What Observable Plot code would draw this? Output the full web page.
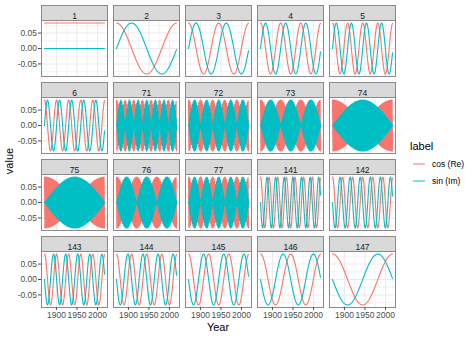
<!DOCTYPE html>
<html>
<head>
<meta charset="utf-8">
<script src="https://cdn.jsdelivr.net/npm/d3@7"></script>
<script src="https://cdn.jsdelivr.net/npm/@observablehq/plot@0.6"></script>
<style>
  body { margin: 0; background: #fff; }
  #chart { position: relative; width: 474px; height: 338px; font-family: "Liberation Sans", Arial, sans-serif; }
</style>
</head>
<body>
<div id="chart"></div>
<script>
// Facet labels (DFT frequency index, 1-based), in reading order
const panels = [1, 2, 3, 4, 5, 6, 71, 72, 73, 74, 75, 76, 77, 141, 142, 143, 144, 145, 146, 147];
// Years on the x axis
const firstYear = 1871;
const lastYear = 2017;
const years = d3.range(firstYear, lastYear + 1);
const nYears = years.length; // 147
// Series (legend labels) and colours
const series = ["cos (Re)", "sin (Im)"];
const seriesColors = ["#F8766D", "#00BFC4"];
// Tick labels
const xTicks = [1900, 1950, 2000];
const xMinor = [1875, 1925, 1975];
const yTicks = [-0.05, 0, 0.05];
const yMinor = [-0.075, -0.025, 0.025, 0.075];
const nCols = 5;

// Table: DFT basis vectors (real and imaginary parts), normalised by sqrt(N)
const rows = [];
panels.forEach((k, i) => {
  const col = i % nCols, row = Math.floor(i / nCols);
  series.forEach((s, si) => {
    years.forEach((yr, n) => {
      const a = 2 * Math.PI * (k - 1) * n / nYears;
      const v = (si === 0 ? Math.cos(a) : Math.sin(a)) / Math.sqrt(nYears);
      rows.push({panel: k, col, row, Year: yr, value: v, label: s});
    });
  });
});
const strips = panels.map((k, i) => ({panel: k, col: i % nCols, row: Math.floor(i / nCols)}));

const xr = lastYear - firstYear;
const xDomain = [firstYear - 0.05 * xr, lastYear + 0.05 * xr];
const vmax = d3.max(rows, d => d.value), vmin = d3.min(rows, d => d.value);
const yr_ = vmax - vmin;
const yDomain = [vmin - 0.05 * yr_, vmax + 0.05 * yr_];

const W = 474, H = 338, mL = 41, mR = 79, mT = 20, mB = 31;
const nRows = Math.ceil(panels.length / nCols);
const fyPad = 21 / 77, fxPad = 6 / 72;
const fyStep = (H - mT - mB) / (nRows - fyPad);
const panelH = fyStep * (1 - fyPad);
const stripH = 15;
const borderCol = "#8a8a8a";

const plot = Plot.plot({
  width: W, height: H,
  marginLeft: mL, marginRight: mR, marginTop: mT, marginBottom: mB,
  style: {fontFamily: '"Liberation Sans", Arial, sans-serif', background: "transparent"},
  fx: {domain: d3.range(nCols), paddingInner: fxPad, paddingOuter: 0, round: false, axis: null, label: null},
  fy: {domain: d3.range(nRows), paddingInner: fyPad, paddingOuter: 0, round: false, axis: null, label: null},
  x: {domain: xDomain, label: null},
  y: {domain: yDomain, label: null},
  color: {domain: series, range: seriesColors},
  marks: [
    Plot.gridX(xMinor, {stroke: "#ededed", strokeOpacity: 1, strokeWidth: 0.6}),
    Plot.gridY(yMinor, {stroke: "#ededed", strokeOpacity: 1, strokeWidth: 0.6}),
    Plot.gridX(xTicks, {stroke: "#ebebeb", strokeOpacity: 1, strokeWidth: 1.1}),
    Plot.gridY(yTicks, {stroke: "#ebebeb", strokeOpacity: 1, strokeWidth: 1.1}),
    Plot.line(rows, {x: "Year", y: "value", z: "label", stroke: "label", fx: "col", fy: "row", strokeWidth: 1.1, curve: "linear"}),
    Plot.frame({stroke: borderCol, strokeWidth: 1}),
    Plot.frame({fill: "#d9d9d9", stroke: borderCol, strokeWidth: 1, insetTop: -stripH, insetBottom: panelH}),
    Plot.text(strips, {fx: "col", fy: "row", text: "panel", frameAnchor: "top", dy: -stripH / 2, fontSize: 8.5, fill: "#1a1a1a"}),
    Plot.axisX({ticks: xTicks, tickFormat: d => String(d), tickSize: 3, tickPadding: 1.5, fontSize: 8.5, color: "#4d4d4d", label: null}),
    Plot.axisY({ticks: yTicks, tickFormat: d => d.toFixed(2), tickSize: 3, tickPadding: 1.5, fontSize: 8.5, color: "#4d4d4d", label: null})
  ]
});

const svg = d3.select(plot);
// Axis titles
svg.append("text").attr("x", mL + (W - mL - mR) / 2).attr("y", 331)
  .attr("text-anchor", "middle").attr("font-size", 11).attr("fill", "#000").text("Year");
svg.append("text").attr("transform", `translate(13,161) rotate(-90)`)
  .attr("text-anchor", "middle").attr("font-size", 11).attr("fill", "#000").text("value");
// Legend
const lg = svg.append("g").attr("transform", "translate(410,0)").attr("text-anchor", "start");
lg.append("text").attr("x", 0).attr("y", 150).attr("font-size", 11).attr("fill", "#000").text("label");
series.forEach((s, i) => {
  const y = 164 + i * 17;
  lg.append("line").attr("x1", 3).attr("x2", 15).attr("y1", y).attr("y2", y)
    .attr("stroke", seriesColors[i]).attr("stroke-width", 1);
  lg.append("text").attr("x", 22).attr("y", y + 3).attr("font-size", 8.5).attr("fill", "#000").text(s);
});

document.getElementById("chart").appendChild(plot);
</script>
</body>
</html>
